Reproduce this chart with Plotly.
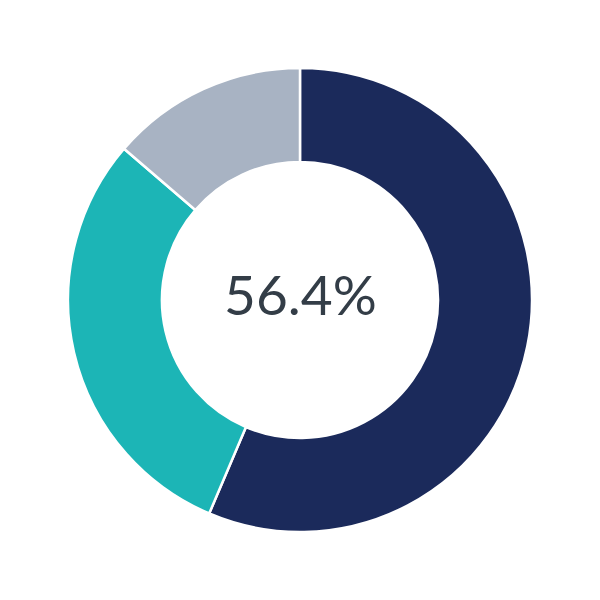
import plotly.graph_objects as go

labels = ["Navy", "Teal", "Gray"]
values = [56.4, 29.9, 13.7]
colors = ["#1b2a5b", "#1cb5b6", "#a8b3c3"]
center_text = "56.4%"

fig = go.Figure(go.Pie(
    labels=labels, values=values, hole=0.595, sort=False, direction="clockwise",
    rotation=0, marker=dict(colors=colors, line=dict(color="white", width=2.5)),
    textinfo="none", hoverinfo="label+percent",
    domain=dict(x=[0.1, 0.8733], y=[0.1267, 0.9]),
))
fig.update_layout(
    width=600, height=600, showlegend=False,
    margin=dict(l=0, r=0, t=0, b=0),
    paper_bgcolor="white", plot_bgcolor="white",
    annotations=[dict(text=center_text, x=0.4867, y=0.524, xref="paper", yref="paper",
                      showarrow=False, font=dict(family="Lato", size=55, color="#333d47"))],
)
fig.write_html("out.html")
